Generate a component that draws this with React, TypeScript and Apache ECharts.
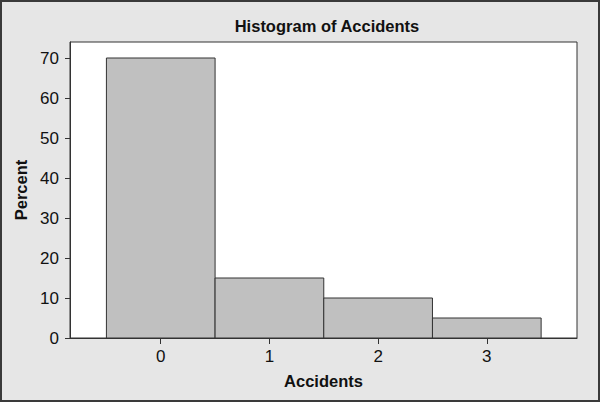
import { useEffect, useRef } from 'react';
import * as echarts from 'echarts';

// histogram data
const accidents = [0, 1, 2, 3];
const percents = [70, 15, 10, 5];
const yTicks = [0, 10, 20, 30, 40, 50, 60, 70];

const FONT = '"Liberation Sans", Arial, sans-serif';

function App() {
  const chartRef = useRef<HTMLDivElement>(null);

  useEffect(() => {
    if (!chartRef.current) return;
    const chart = echarts.init(chartRef.current, null, { renderer: 'svg' });

    const option: echarts.EChartsOption = {
      animation: false,
      backgroundColor: '#e6e6e6',
      title: {
        text: 'Histogram of Accidents',
        left: 322,
        textAlign: 'center',
        top: 12,
        textStyle: { fontFamily: FONT, fontSize: 16.5, fontWeight: 'bold', color: '#111' }
      },
      graphic: [
        {
          type: 'rect',
          shape: { x: 1, y: 1, width: 598, height: 400 },
          style: { fill: 'none', stroke: '#3a3a3a', lineWidth: 2 },
          silent: true
        }
      ],
      grid: {
        left: 70,
        right: 23,
        top: 42,
        bottom: 64,
        show: true,
        backgroundColor: '#ffffff',
        borderColor: '#333',
        borderWidth: 1
      },
      xAxis: {
        type: 'value',
        min: -0.835,
        max: 3.83,
        name: 'Accidents',
        nameLocation: 'middle',
        nameGap: 34,
        nameTextStyle: { fontFamily: FONT, fontSize: 16.5, fontWeight: 'bold', color: '#111' },
        splitLine: { show: false },
        axisLine: { show: true, lineStyle: { color: '#333', width: 1 } },
        axisTick: {
          show: true,
          length: 6,
          customValues: accidents,
          lineStyle: { color: '#333' }
        },
        axisLabel: {
          customValues: accidents,
          margin: 10,
          fontFamily: FONT,
          fontSize: 17,
          color: '#111'
        }
      },
      yAxis: {
        type: 'value',
        min: 0,
        max: 74,
        name: 'Percent',
        nameLocation: 'middle',
        nameGap: 40,
        nameRotate: 90,
        nameTextStyle: { fontFamily: FONT, fontSize: 16.5, fontWeight: 'bold', color: '#111' },
        splitLine: { show: false },
        axisLine: { show: true, onZero: false, lineStyle: { color: '#333', width: 1 } },
        axisTick: {
          show: true,
          length: 5,
          customValues: yTicks,
          lineStyle: { color: '#333' }
        },
        axisLabel: {
          customValues: yTicks,
          margin: 11,
          fontFamily: FONT,
          fontSize: 17,
          color: '#111'
        }
      },
      series: [
        {
          type: 'custom',
          data: accidents.map((a, i) => [a, percents[i]]),
          renderItem: (_params: any, api: any) => {
            const x = api.value(0);
            const y = api.value(1);
            const p1 = api.coord([x - 0.5, y]);
            const p2 = api.coord([x + 0.5, 0]);
            return {
              type: 'rect',
              shape: { x: p1[0], y: p1[1], width: p2[0] - p1[0], height: p2[1] - p1[1] },
              style: { fill: '#c0c0c0', stroke: '#333', lineWidth: 1 }
            };
          }
        }
      ]
    };

    chart.setOption(option);

    return () => {
      chart.dispose();
    };
  }, []);

  return (
    <div
      ref={chartRef}
      style={{ position: 'fixed', left: 0, top: 0, width: '600px', height: '402px' }}
    />
  );
}

export default App;
